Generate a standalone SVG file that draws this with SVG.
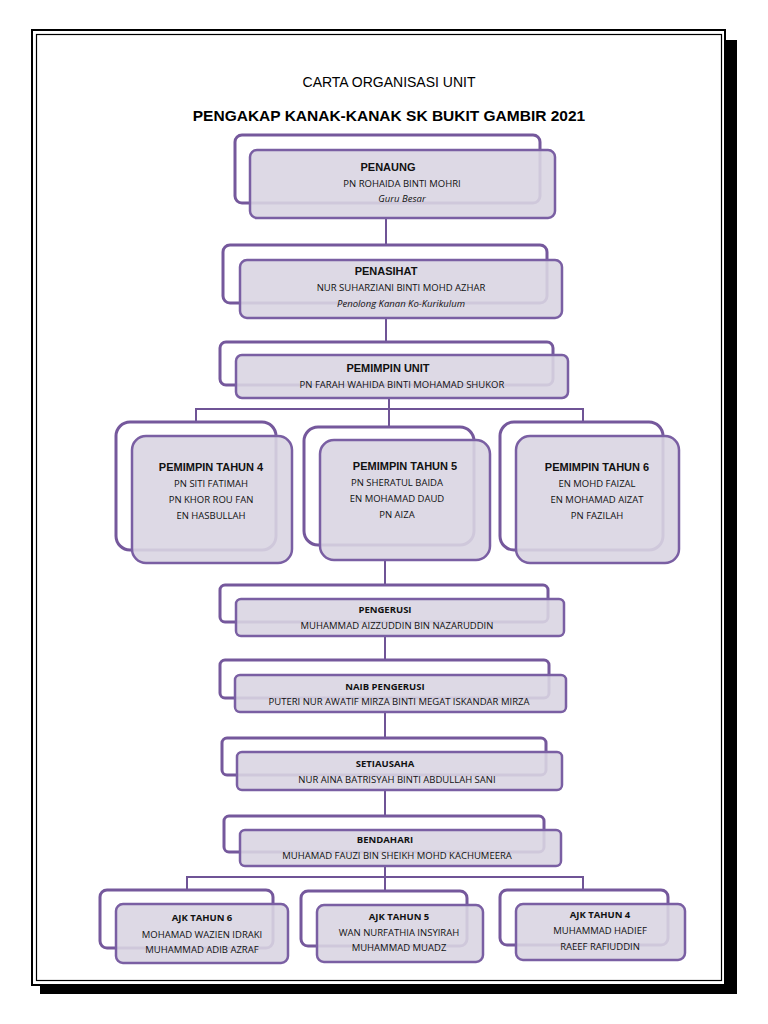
<svg xmlns="http://www.w3.org/2000/svg" width="768" height="1024" viewBox="0 0 768 1024">
<style>
.b{fill:#fff;stroke:#75589c;stroke-width:3}
.f{fill:#d9d5e2;fill-opacity:0.9;stroke:#7a5fa3;stroke-width:2.5}
.c{fill:none;stroke:#6f5496;stroke-width:2}
.h{font-family:"Liberation Sans",Arial,sans-serif;font-weight:bold;font-size:11px;text-anchor:middle;fill:#111}
.h2{font-family:"Open Sans",sans-serif;font-weight:bold;font-size:9.5px;text-anchor:middle;fill:#111}
.t{font-family:"Open Sans",sans-serif;font-size:9.5px;text-anchor:middle;fill:#111}
.i{font-style:italic}
</style>
<rect width="768" height="1024" fill="#fff"/>
<g id="border">
<path d="M40 985 H737 V40 H726 V985" fill="#000"/>
<rect x="40" y="985" width="697" height="9" fill="#000"/>
<rect x="32" y="30" width="693" height="955" fill="none" stroke="#000" stroke-width="2"/>
<rect x="36.5" y="34.5" width="685" height="946" fill="none" stroke="#000" stroke-width="1.2"/>
</g>
<text x="389" y="87" font-family="Liberation Sans,Arial,sans-serif" font-size="14" text-anchor="middle">CARTA ORGANISASI UNIT</text>
<text x="389" y="121" font-family="Liberation Sans,Arial,sans-serif" font-size="15.5" font-weight="bold" text-anchor="middle">PENGAKAP KANAK-KANAK SK BUKIT GAMBIR 2021</text>
<g id="connectors" class="c">
<path d="M386 218 V260 M386 318 V355 M389 398 V427 M196 422 V409 H583 V422 M385 560 V599 M385 636 V675 M385 712 V752 M385 790 V830 M385 866 V905 M187 890 V877 H583 V890"/>
</g>
<g id="penaung"><rect class="b" x="235" y="135" width="305" height="68" rx="7"/><rect class="f" x="250" y="150" width="305" height="68" rx="7"/>
<text class="h" x="388" y="171">PENAUNG</text><text class="t" x="402" y="187">PN ROHAIDA BINTI MOHRI</text><text class="t i" x="402" y="202">Guru Besar</text></g>
<g id="penasihat"><rect class="b" x="223" y="245" width="324" height="58" rx="7"/><rect class="f" x="240" y="260" width="322" height="58" rx="7"/>
<text class="h" x="386" y="275">PENASIHAT</text><text class="t" x="401" y="291">NUR SUHARZIANI BINTI MOHD AZHAR</text><text class="t i" x="401" y="307">Penolong Kanan Ko-Kurikulum</text></g>
<g id="pemimpin-unit"><rect class="b" x="220" y="342" width="333" height="43" rx="6"/><rect class="f" x="236" y="355" width="332" height="43" rx="6"/>
<text class="h" x="388" y="372">PEMIMPIN UNIT</text><text class="t" x="402" y="388">PN FARAH WAHIDA BINTI MOHAMAD SHUKOR</text></g>
<g id="tahun4"><rect class="b" x="116" y="422" width="160" height="128" rx="14"/><rect class="f" x="132" y="436" width="160" height="127" rx="14"/>
<text class="h" x="211" y="471">PEMIMPIN TAHUN 4</text><text class="t" x="211" y="487">PN SITI FATIMAH</text><text class="t" x="211" y="503">PN KHOR ROU FAN</text><text class="t" x="211" y="519">EN HASBULLAH</text></g>
<g id="tahun5"><rect class="b" x="304" y="427" width="170" height="118" rx="14"/><rect class="f" x="320" y="440" width="170" height="120" rx="14"/>
<text class="h" x="405" y="470">PEMIMPIN TAHUN 5</text><text class="t" x="397" y="486">PN SHERATUL BAIDA</text><text class="t" x="397" y="502">EN MOHAMAD DAUD</text><text class="t" x="397" y="518">PN AIZA</text></g>
<g id="tahun6"><rect class="b" x="500" y="422" width="163" height="128" rx="14"/><rect class="f" x="516" y="436" width="163" height="127" rx="14"/>
<text class="h" x="597" y="471">PEMIMPIN TAHUN 6</text><text class="t" x="597" y="487">EN MOHD FAIZAL</text><text class="t" x="597" y="503">EN MOHAMAD AIZAT</text><text class="t" x="597" y="519">PN FAZILAH</text></g>
<g id="pengerusi"><rect class="b" x="220" y="585" width="328" height="37" rx="5"/><rect class="f" x="236" y="599" width="328" height="37" rx="5"/>
<text class="h2" x="385" y="613">PENGERUSI</text><text class="t" x="397" y="629">MUHAMMAD AIZZUDDIN BIN NAZARUDDIN</text></g>
<g id="naib"><rect class="b" x="220" y="660" width="329" height="38" rx="5"/><rect class="f" x="235" y="675" width="331" height="37" rx="5"/>
<text class="h2" x="385" y="690">NAIB PENGERUSI</text><text class="t" x="399" y="705">PUTERI NUR AWATIF MIRZA BINTI MEGAT ISKANDAR MIRZA</text></g>
<g id="setiausaha"><rect class="b" x="222" y="738" width="324" height="37" rx="5"/><rect class="f" x="237" y="752" width="325" height="38" rx="5"/>
<text class="h2" x="385" y="767">SETIAUSAHA</text><text class="t" x="397" y="783">NUR AINA BATRISYAH BINTI ABDULLAH SANI</text></g>
<g id="bendahari"><rect class="b" x="224" y="816" width="320" height="36" rx="5"/><rect class="f" x="240" y="830" width="321" height="36" rx="5"/>
<text class="h2" x="385" y="843">BENDAHARI</text><text class="t" x="397" y="859">MUHAMAD FAUZI BIN SHEIKH MOHD KACHUMEERA</text></g>
<g id="ajk6"><rect class="b" x="100" y="890" width="173" height="58" rx="7"/><rect class="f" x="116" y="904" width="172" height="59" rx="7"/>
<text class="h2" x="202" y="921">AJK TAHUN 6</text><text class="t" x="202" y="938">MOHAMAD WAZIEN IDRAKI</text><text class="t" x="202" y="953">MUHAMMAD ADIB AZRAF</text></g>
<g id="ajk5"><rect class="b" x="301" y="891" width="166" height="55" rx="7"/><rect class="f" x="317" y="905" width="166" height="57" rx="7"/>
<text class="h2" x="399" y="920">AJK TAHUN 5</text><text class="t" x="399" y="936">WAN NURFATHIA INSYIRAH</text><text class="t" x="399" y="951">MUHAMMAD MUADZ</text></g>
<g id="ajk4"><rect class="b" x="500" y="890" width="168" height="55" rx="7"/><rect class="f" x="516" y="904" width="169" height="56" rx="7"/>
<text class="h2" x="600" y="918">AJK TAHUN 4</text><text class="t" x="600" y="934">MUHAMMAD HADIEF</text><text class="t" x="600" y="950">RAEEF RAFIUDDIN</text></g>
</svg>
